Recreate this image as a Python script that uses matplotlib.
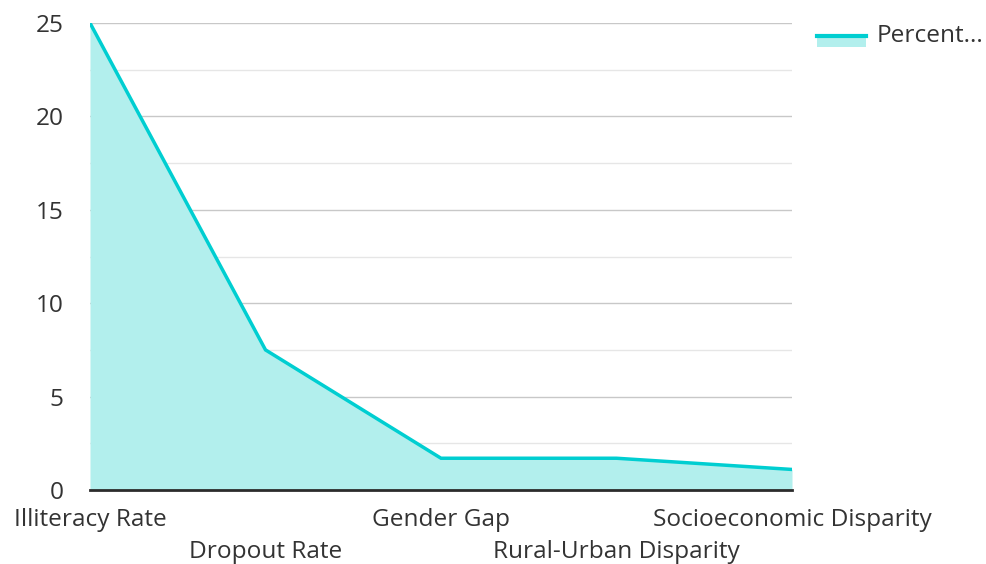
import matplotlib.pyplot as plt
import matplotlib.patches as mpatches
from matplotlib.lines import Line2D
import numpy as np

plt.rcParams['font.family'] = ['Open Sans', 'DejaVu Sans']

categories = ['Illiteracy Rate', 'Dropout Rate', 'Gender Gap',
              'Rural-Urban Disparity', 'Socioeconomic Disparity']
percent = [25, 7.5, 1.7, 1.7, 1.1]
series_name = 'Percent...'

line_col = '#00CED1'
fill_col = '#B2EFED'
text_col = '#333333'
fs = 17.6

fig = plt.figure(figsize=(9.87, 5.64), dpi=100)
ax = fig.add_axes([90/987, 1 - 490/564, 702/987, 467/564])

x = np.arange(len(categories))
ax.fill_between(x, percent, 0, color=fill_col, lw=0, zorder=2)
ax.plot(x, percent, color=line_col, lw=2.5, zorder=3, solid_joinstyle='miter')

ax.set_xlim(0, len(categories) - 1)
ax.set_ylim(0, 25)
ax.set_yticks(np.arange(0, 26, 5))
ax.set_yticks(np.arange(2.5, 25, 5), minor=True)
ax.grid(axis='y', which='major', color='#c8c8c8', lw=1, zorder=0)
ax.grid(axis='y', which='minor', color='#e6e6e6', lw=1, zorder=0)
ax.tick_params(axis='y', which='both', length=0, pad=19, labelsize=fs, labelcolor=text_col)
ax.tick_params(axis='x', length=0, pad=13, labelsize=fs, labelcolor=text_col)
ax.set_xticks(x)
ax.set_xticklabels(categories)
for t in ax.xaxis.get_major_ticks()[1::2]:
    t.set_pad(13 + 23)

for s in ['top', 'right', 'left']:
    ax.spines[s].set_visible(False)
ax.spines['bottom'].set_color('#2b2b2b')
ax.spines['bottom'].set_linewidth(2)
ax.spines['bottom'].set_zorder(4)

# legend drawn by hand
fig.patches.append(mpatches.Rectangle((817/987, 1 - 47/564), 49/987, 12/564,
                                      transform=fig.transFigure, color=fill_col, lw=0))
fig.lines.append(Line2D([817/987, 866/987], [1 - 36/564, 1 - 36/564],
                        transform=fig.transFigure, color=line_col, lw=3))
fig.text(877/987, 1 - 36/564, series_name, fontsize=fs, color=text_col, va='center', ha='left')

fig.savefig('out.png', dpi=100)
